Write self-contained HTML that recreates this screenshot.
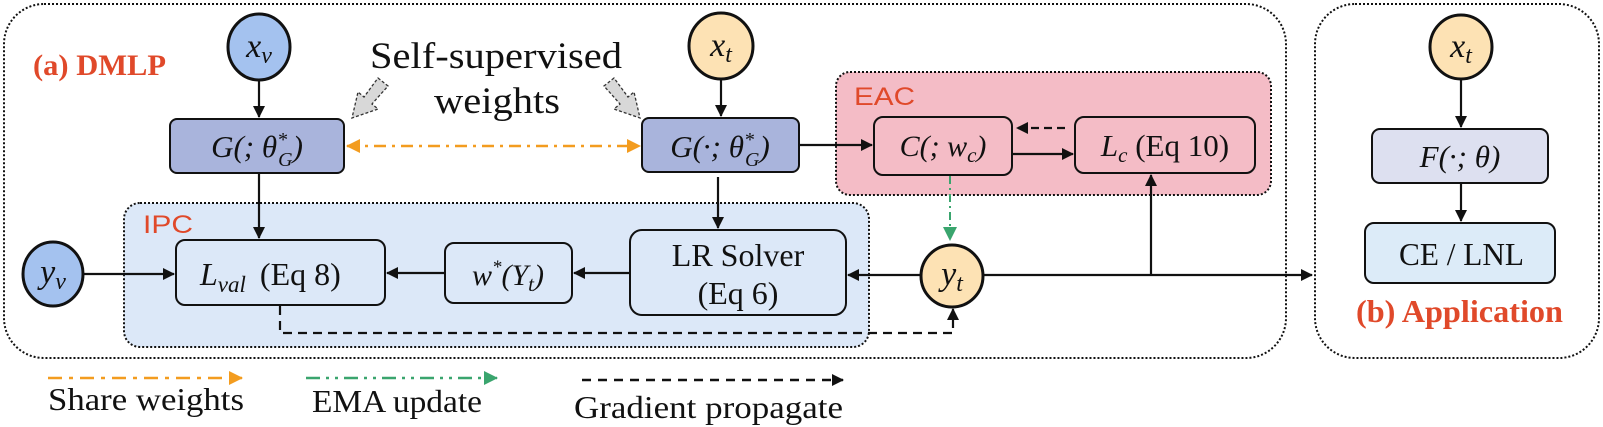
<!DOCTYPE html>
<html><head><meta charset="utf-8"><style>
body{margin:0;background:#fff}
svg{display:block}
text{font-family:"Liberation Serif",serif;fill:#111}
.m{font-style:italic}
</style></head><body>
<svg width="1603" height="427" viewBox="0 0 1603 427" xmlns="http://www.w3.org/2000/svg">
<defs>
<marker id="ab" markerWidth="12" markerHeight="12" refX="11" refY="6" orient="auto" markerUnits="userSpaceOnUse"><path d="M0,0 L12,6 L0,12z" fill="#111"/></marker>
<marker id="ao" markerWidth="14" markerHeight="14" refX="13" refY="7" orient="auto-start-reverse" markerUnits="userSpaceOnUse"><path d="M0,0 L14,7 L0,14z" fill="#f39c1f"/></marker>
<marker id="ag" markerWidth="14" markerHeight="14" refX="13" refY="7" orient="auto" markerUnits="userSpaceOnUse"><path d="M0,0 L14,7 L0,14z" fill="#3aa56e"/></marker>
</defs>
<rect x="4" y="4" width="1282" height="354" rx="40" fill="none" stroke="#111" stroke-width="2" stroke-dasharray="2,2"/>
<rect x="1315" y="4" width="284" height="354" rx="40" fill="none" stroke="#111" stroke-width="2" stroke-dasharray="2,2"/>
<text x="33" y="75" font-size="30" textLength="133" lengthAdjust="spacingAndGlyphs" style="fill:#e0492a;font-weight:bold">(a) DMLP</text>
<rect x="836" y="72" width="435" height="123" rx="14" fill="#f4bcc6" stroke="#111" stroke-width="2" stroke-dasharray="2,2"/>
<text x="854" y="105" font-size="25" textLength="61" lengthAdjust="spacingAndGlyphs" style="fill:#e0492a;font-family:'Liberation Sans',sans-serif">EAC</text>
<rect x="124" y="203" width="745" height="144" rx="16" fill="#dce8f8" stroke="#111" stroke-width="2" stroke-dasharray="2,2"/>
<text x="143" y="233" font-size="25" textLength="50" lengthAdjust="spacingAndGlyphs" style="fill:#e0492a;font-family:'Liberation Sans',sans-serif">IPC</text>
<ellipse cx="259" cy="47" rx="31" ry="33" fill="#a4c2ef" stroke="#111" stroke-width="3"/>
<text x="259" y="57" font-size="34" text-anchor="middle" class="m">x<tspan font-size="24" dy="6">v</tspan></text>
<ellipse cx="721" cy="46" rx="32" ry="33" fill="#fde2b4" stroke="#111" stroke-width="3"/>
<text x="721" y="56" font-size="34" text-anchor="middle" class="m">x<tspan font-size="24" dy="6">t</tspan></text>
<ellipse cx="53" cy="274" rx="30" ry="32" fill="#a4c2ef" stroke="#111" stroke-width="3"/>
<text x="53" y="283" font-size="34" text-anchor="middle" class="m">y<tspan font-size="24" dy="6">v</tspan></text>
<ellipse cx="952" cy="276" rx="31" ry="31" fill="#fde2b4" stroke="#111" stroke-width="3"/>
<text x="952" y="285" font-size="34" text-anchor="middle" class="m">y<tspan font-size="24" dy="6">t</tspan></text>
<ellipse cx="1461" cy="47" rx="31" ry="32" fill="#fde2b4" stroke="#111" stroke-width="3"/>
<text x="1461" y="57" font-size="34" text-anchor="middle" class="m">x<tspan font-size="24" dy="6">t</tspan></text>
<text x="370" y="68" font-size="37" textLength="252" lengthAdjust="spacingAndGlyphs">Self-supervised</text>
<text x="434" y="113" font-size="37" textLength="126" lengthAdjust="spacingAndGlyphs">weights</text>
<path d="M378,78 L388,86 L372,104 L378,109 L352,118 L358,92 L364,97 z" fill="#d8d8d8" stroke="#333" stroke-width="1.3" stroke-dasharray="3,2"/>
<path d="M614,78 L604,86 L620,104 L614,109 L640,118 L634,92 L628,97 z" fill="#d8d8d8" stroke="#333" stroke-width="1.3" stroke-dasharray="3,2"/>
<rect x="170" y="119" width="174" height="54" rx="7" fill="#a9b4dc" stroke="#111" stroke-width="2"/>
<text x="257" y="157" font-size="31" text-anchor="middle" class="m">G(; θ<tspan font-size="20" dy="-11">*</tspan><tspan font-size="20" dx="-9" dy="20">G</tspan><tspan dy="-9">)</tspan></text>
<rect x="642" y="118" width="157" height="54" rx="7" fill="#a9b4dc" stroke="#111" stroke-width="2"/>
<text x="720" y="157" font-size="31" text-anchor="middle" class="m">G(·; θ<tspan font-size="20" dy="-11">*</tspan><tspan font-size="20" dx="-9" dy="20">G</tspan><tspan dy="-9">)</tspan></text>
<line x1="347" y1="146" x2="640" y2="146" stroke="#f39c1f" stroke-width="2.5" stroke-dasharray="12,6,3,6" marker-start="url(#ao)" marker-end="url(#ao)"/>
<rect x="176" y="240" width="209" height="65" rx="9" fill="#dce8f8" stroke="#111" stroke-width="2"/>
<text x="200" y="285" font-size="32"><tspan class="m">L</tspan><tspan class="m" font-size="23" dy="7">val</tspan><tspan dy="-7" dx="14">(Eq 8)</tspan></text>
<rect x="445" y="243" width="127" height="60" rx="9" fill="#dce8f8" stroke="#111" stroke-width="2"/>
<text x="508" y="285" font-size="30" text-anchor="middle" class="m">w<tspan font-size="19" dy="-12">*</tspan><tspan dy="12">(Y</tspan><tspan font-size="21" dy="6">t</tspan><tspan dy="-6">)</tspan></text>
<rect x="630" y="230" width="216" height="85" rx="12" fill="#dce8f8" stroke="#111" stroke-width="2"/>
<text x="738" y="266" font-size="32" text-anchor="middle">LR Solver</text>
<text x="738" y="304" font-size="32" text-anchor="middle">(Eq 6)</text>
<rect x="874" y="117" width="138" height="58" rx="9" fill="#f4bcc6" stroke="#111" stroke-width="2"/>
<text x="943" y="156" font-size="30" text-anchor="middle" class="m">C(; w<tspan font-size="21" dy="6">c</tspan><tspan dy="-6">)</tspan></text>
<rect x="1075" y="117" width="180" height="56" rx="9" fill="#f4bcc6" stroke="#111" stroke-width="2"/>
<text x="1165" y="156" font-size="31" text-anchor="middle"><tspan class="m">L</tspan><tspan class="m" font-size="21" dy="6">c</tspan><tspan dy="-6"> (Eq 10)</tspan></text>
<rect x="1372" y="129" width="176" height="54" rx="8" fill="#dde0f0" stroke="#111" stroke-width="2"/>
<text x="1460" y="167" font-size="31" text-anchor="middle" class="m">F(·; θ)</text>
<rect x="1365" y="223" width="190" height="60" rx="9" fill="#dcebf8" stroke="#111" stroke-width="2"/>
<text x="1399" y="265" font-size="32" textLength="125" lengthAdjust="spacingAndGlyphs">CE / LNL</text>
<text x="1356" y="322" font-size="32" textLength="207" lengthAdjust="spacingAndGlyphs" style="fill:#e0492a;font-weight:bold">(b) Application</text>
<g stroke="#111" stroke-width="2.2" fill="none">
<line x1="259" y1="80" x2="259" y2="117" marker-end="url(#ab)"/>
<line x1="721" y1="79" x2="721" y2="116" marker-end="url(#ab)"/>
<line x1="259" y1="173" x2="259" y2="238" marker-end="url(#ab)"/>
<line x1="718" y1="177" x2="718" y2="228" marker-end="url(#ab)"/>
<line x1="84" y1="274" x2="174" y2="274" marker-end="url(#ab)"/>
<line x1="445" y1="273" x2="387" y2="273" marker-end="url(#ab)"/>
<line x1="630" y1="273" x2="574" y2="273" marker-end="url(#ab)"/>
<line x1="921" y1="275" x2="848" y2="275" marker-end="url(#ab)"/>
<line x1="799" y1="145" x2="872" y2="145" marker-end="url(#ab)"/>
<line x1="1012" y1="154" x2="1073" y2="154" marker-end="url(#ab)"/>
<line x1="1065" y1="128" x2="1017" y2="128" stroke-dasharray="8,5" marker-end="url(#ab)"/>
<line x1="983" y1="275" x2="1312" y2="275" marker-end="url(#ab)"/>
<line x1="1151" y1="275" x2="1151" y2="175" marker-end="url(#ab)"/>
<line x1="1461" y1="80" x2="1461" y2="127" marker-end="url(#ab)"/>
<line x1="1461" y1="183" x2="1461" y2="221" marker-end="url(#ab)"/>
<polyline points="280,306 280,333 953,333 953,309" stroke-dasharray="9,6" marker-end="url(#ab)"/>
</g>
<line x1="950" y1="176" x2="950" y2="240" stroke="#3aa56e" stroke-width="2" stroke-dasharray="8,4,2,4" marker-end="url(#ag)"/>
<line x1="48" y1="378" x2="242" y2="378" stroke="#f39c1f" stroke-width="2.5" stroke-dasharray="14,7,4,7" marker-end="url(#ao)"/>
<text x="48" y="410" font-size="32" textLength="196" lengthAdjust="spacingAndGlyphs">Share weights</text>
<line x1="306" y1="378" x2="497" y2="378" stroke="#3aa56e" stroke-width="2.5" stroke-dasharray="14,6,3,6,3,6" marker-end="url(#ag)"/>
<text x="312" y="412" font-size="32" textLength="170" lengthAdjust="spacingAndGlyphs">EMA update</text>
<line x1="582" y1="380" x2="843" y2="380" stroke="#111" stroke-width="2.5" stroke-dasharray="9,7" marker-end="url(#ab)"/>
<text x="574" y="418" font-size="32" textLength="269" lengthAdjust="spacingAndGlyphs">Gradient propagate</text>
</svg>
</body></html>
